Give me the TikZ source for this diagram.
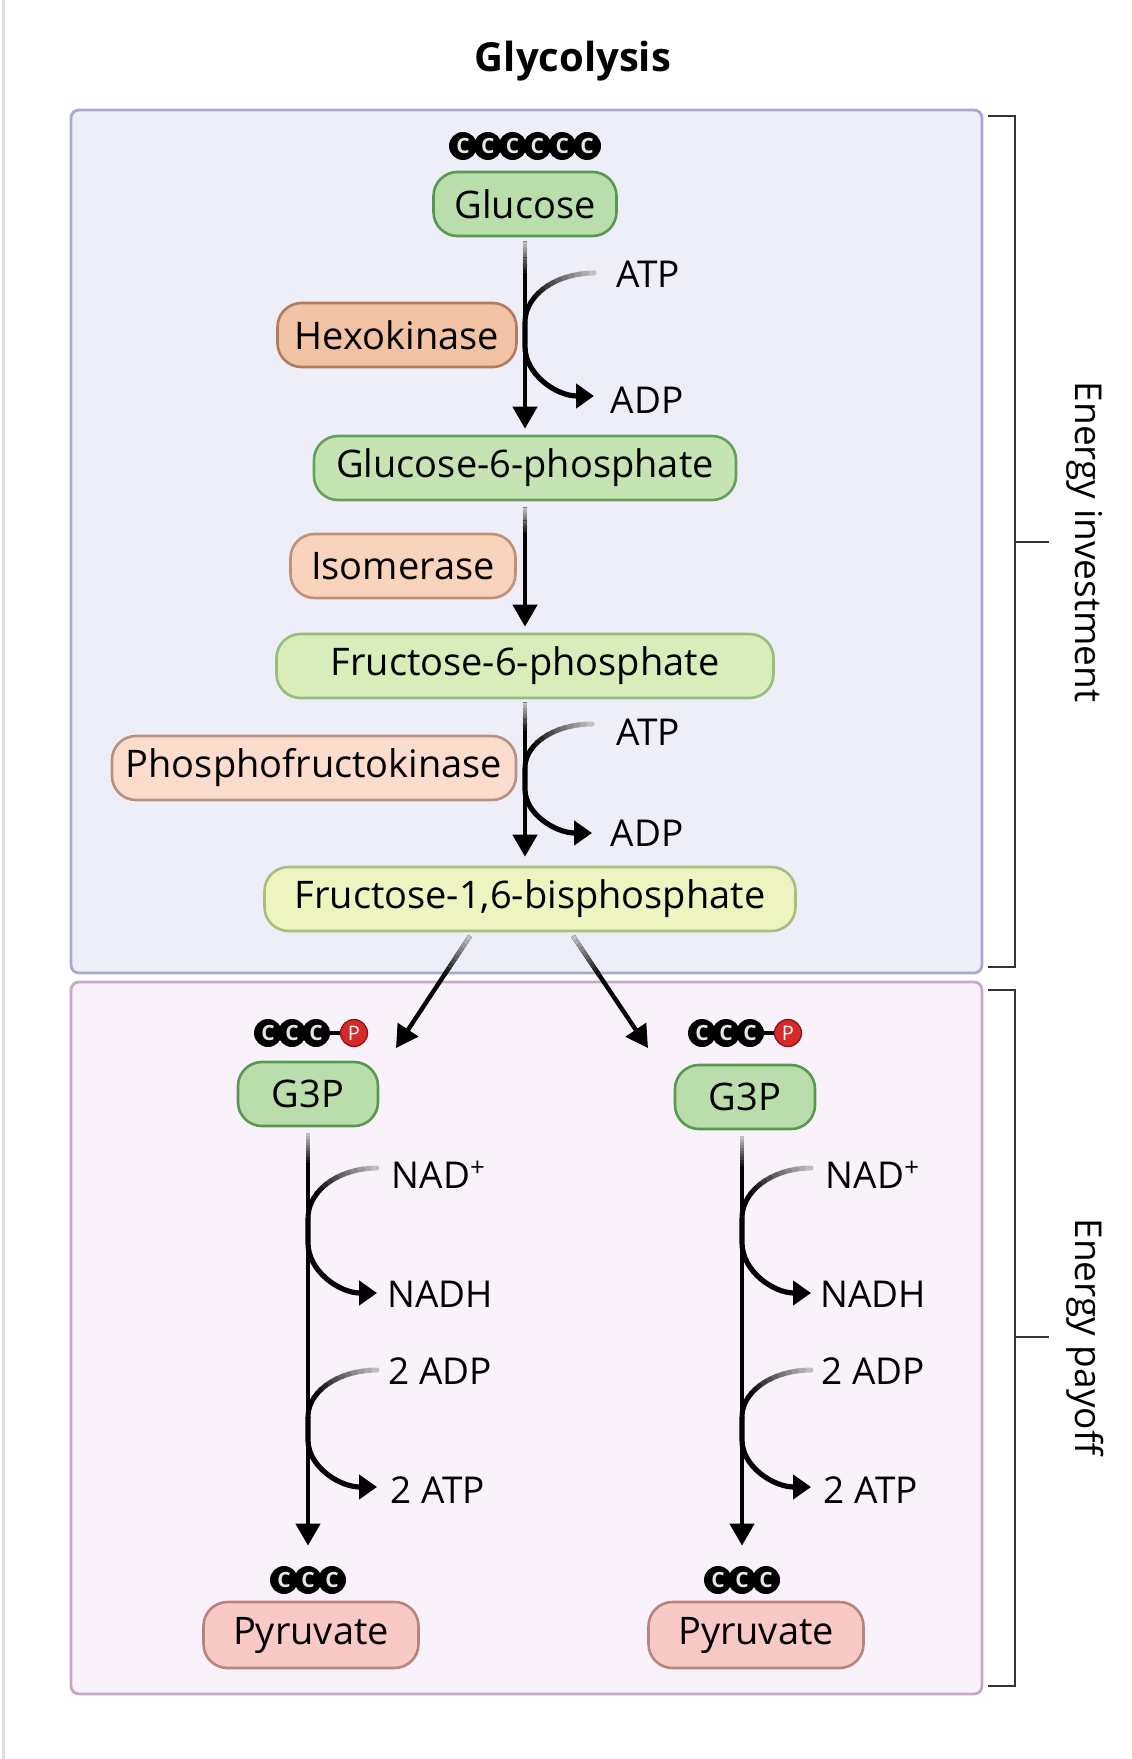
\documentclass[tikz,border=0pt]{standalone}
\usepackage{fontspec}
\setmainfont{Open Sans}
\usetikzlibrary{arrows.meta,calc}
\definecolor{panelA}{HTML}{EEEEF9}
\definecolor{panelAb}{HTML}{A9A9CF}
\definecolor{panelB}{HTML}{FAF2FA}
\definecolor{panelBb}{HTML}{C8A8C8}
\definecolor{gA}{HTML}{B9DEAC}
\definecolor{gAb}{HTML}{589850}
\definecolor{gB}{HTML}{C6E3B3}
\definecolor{gBb}{HTML}{66A058}
\definecolor{gC}{HTML}{D8EDB9}
\definecolor{gCb}{HTML}{94BE7C}
\definecolor{gD}{HTML}{EEF4C0}
\definecolor{gDb}{HTML}{ABBD7C}
\definecolor{oA}{HTML}{F1C2A3}
\definecolor{oAb}{HTML}{B07C5E}
\definecolor{oB}{HTML}{F9D3BC}
\definecolor{oBb}{HTML}{C09078}
\definecolor{oC}{HTML}{FCDDCD}
\definecolor{oCb}{HTML}{B89280}
\definecolor{pk}{HTML}{F8C9C5}
\definecolor{pkb}{HTML}{B88480}
\definecolor{pred}{HTML}{D42A2A}
\definecolor{pdark}{HTML}{8B1010}
\definecolor{brk}{HTML}{333333}

\newcommand\cofac[4]{% xm, ytop, ybot, w
  \pgfmathsetmacro\ryA{0.4*(#3-#2)}
  \foreach \k in {0,...,14}{%
    \pgfmathsetmacro\aa{90+6*\k}
    \pgfmathsetmacro\ab{96+6*\k}
    \pgfmathtruncatemacro\pp{25+75*\k/10}
    \pgfmathtruncatemacro\pq{min(\pp,100)}
    \draw[line width=2.5pt, line cap=round, black!\pq] ({#1+#4+#4*cos(\aa)},{#2+\ryA-\ryA*sin(\aa)}) -- ({#1+#4+#4*cos(\ab)},{#2+\ryA-\ryA*sin(\ab)});
  }
  \draw[curvarr] (#1,{#2+\ryA}) -- (#1,{#3-\ryA}) .. controls (#1,{#3-0.448*\ryA}) and ({#1+0.448*#4},#3) .. ({#1+#4},#3);
}
\newcommand\fadeseg[2]{% from, to
  \foreach \k in {0,...,9}{%
    \pgfmathsetmacro\ta{\k/10}
    \pgfmathsetmacro\tb{(\k+1)/10}
    \pgfmathtruncatemacro\pp{25+75*\k/10}
    \draw[line width=2.2pt, black!\pp] ($(#1)!\ta!(#2)$) -- ($(#1)!\tb!(#2)$);
  }
}

\tikzset{
  pill/.style={draw, line width=1.3pt, rounded corners=12pt, minimum height=32pt, inner sep=0pt, font=\fontsize{19}{22}\selectfont},
  lbl/.style={font=\fontsize{18.5}{22}\selectfont, inner sep=0pt},
  mainarr/.style={line width=2.2pt, -{Triangle[length=11pt,width=12pt]}},
  curvarr/.style={line width=2.6pt, -{Triangle[length=9pt,width=12pt]}},
  carbon/.style={circle, fill=black, minimum size=14pt, inner sep=0pt, text=gray!20, font=\bfseries\fontsize{10.5}{10}\selectfont},
  phos/.style={circle, fill=pred, draw=pdark, line width=0.6pt, minimum size=13.5pt, inner sep=0pt, text=white, font=\fontsize{10}{10}\selectfont},
  bracket/.style={line width=1pt, brk},
}

\begin{document}
\begin{tikzpicture}[x=0.5pt, y=-0.5pt]
\useasboundingbox (0,0) rectangle (1131,1759);
\fill[white] (0,0) rectangle (1131,1759);
\draw[gray!25, line width=1.5pt] (3,0) -- (3,1759);

% title
\node[font=\bfseries\fontsize{20}{24}\selectfont] (title) at (573,61) {Glycolysis};

% panels
\draw[fill=panelA, draw=panelAb, line width=1.4pt, rounded corners=4pt] (71,110) rectangle (982,973);
\draw[fill=panelB, draw=panelBb, line width=1.4pt, rounded corners=4pt] (71,982) rectangle (982,1694);

% brackets
\draw[bracket] (988,116) -- (1015,116) -- (1015,967) -- (988,967);
\draw[bracket] (1015,542) -- (1049,542);
\draw[bracket] (988,990) -- (1015,990) -- (1015,1686) -- (988,1686);
\draw[bracket] (1015,1337) -- (1049,1337);
\node[lbl, rotate=-90] (einv) at (1085,542) {Energy investment};
\node[lbl, rotate=-90] (epay) at (1085,1337) {Energy payoff};

% top nodes
\node[pill, fill=gA, draw=gAb, minimum width=91.5pt] (glc) at (525,204) {Glucose};
\node[pill, fill=oA, draw=oAb, minimum width=119.5pt] (hex) at (397,335) {Hexokinase};
\node[pill, fill=gB, draw=gBb, minimum width=211pt] (g6p) at (525,468) {Glucose-6-phosphate};
\node[pill, fill=oB, draw=oBb, minimum width=112.5pt] (iso) at (403,566) {Isomerase};
\node[pill, fill=gC, draw=gCb, minimum width=248.5pt] (f6p) at (525,666) {Fructose-6-phosphate};
\node[pill, fill=oC, draw=oCb, minimum width=202pt] (pfk) at (314,768) {Phosphofructokinase};
\node[pill, fill=gD, draw=gDb, minimum width=265.5pt] (f16) at (530,899) {Fructose-1,6-bisphosphate};

% glucose carbons
\foreach \i in {0,...,5} \node[carbon] (cg\i) at ({463+24.8*\i},146) {C};

% labels top
\node[lbl] (atp1) at (648,274) {ATP};
\node[lbl] (adp1) at (647,400) {ADP};
\node[lbl] (atp2) at (648,732) {ATP};
\node[lbl] (adp2) at (647,833) {ADP};

% main arrows top
\draw[mainarr, shorten <=2pt, shorten >=3pt] (glc) -- (g6p);
\draw[mainarr, shorten <=3pt, shorten >=3pt] (g6p) -- (f6p);
\draw[mainarr, shorten <=1.5pt, shorten >=4.5pt] (f6p.south) -- (f6p.south |- f16.north);
\coordinate (fa1) at ($(glc.south)+(0,4)$);
\coordinate (fb1) at ($(glc.south)+(0,36)$);
\fadeseg{fa1}{fb1}
\coordinate (fa2) at ($(g6p.south)+(0,6)$);
\coordinate (fb2) at ($(g6p.south)+(0,32)$);
\fadeseg{fa2}{fb2}
\coordinate (fa3) at ($(f6p.south)+(0,3)$);
\coordinate (fb3) at ($(f6p.south)+(0,32)$);
\fadeseg{fa3}{fb3}

% cofactor curves top
\cofac{525}{273}{396}{69}
\cofac{525}{724}{833}{67}

% diagonal split
\coordinate (dLs) at (470,936);
\coordinate (dLe) at (396,1048);
\coordinate (dRs) at (573,936);
\coordinate (dRe) at (648,1048);
\draw[mainarr] (dLs) -- (dLe);
\draw[mainarr] (dRs) -- (dRe);
\coordinate (dLm) at ($(dLs)!0.35!(dLe)$);
\coordinate (dRm) at ($(dRs)!0.35!(dRe)$);
\fadeseg{dLs}{dLm}
\fadeseg{dRs}{dRm}

% bottom nodes
\node[pill, fill=gA, draw=gAb, minimum width=70pt] (g3pL) at (308,1094) {G3P};
\node[pill, fill=gA, draw=gAb, minimum width=70pt] (g3pR) at (745,1097) {G3P};
\node[pill, fill=pk, draw=pkb, minimum width=107.5pt, minimum height=33pt] (pyrL) at (311,1635) {Pyruvate};
\node[pill, fill=pk, draw=pkb, minimum width=107.5pt, minimum height=33pt] (pyrR) at (756,1635) {Pyruvate};

% G3P carbons + phosphate
\foreach \i in {0,1,2} \node[carbon] (cL\i) at ({268+24*\i},1033) {C};
\node[phos] (pL) at (354,1033) {P};
\draw[line width=1.8pt] (cL2) -- (pL);
\foreach \i in {0,1,2} \node[carbon] (cR\i) at ({702+24*\i},1033) {C};
\node[phos] (pR) at (788,1033) {P};
\draw[line width=1.8pt] (cR2) -- (pR);

% pyruvate carbons
\foreach \i in {0,1,2} \node[carbon] (pcL\i) at ({284+24*\i},1580) {C};
\foreach \i in {0,1,2} \node[carbon] (pcR\i) at ({718+24*\i},1580) {C};

% long arrows
\draw[mainarr, shorten <=3pt, shorten >=10pt] (g3pL.south -| pcL1) -- (pcL1);
\draw[mainarr, shorten <=3pt, shorten >=10pt] (g3pR.south -| pcR1) -- (pcR1);
\coordinate (fa4) at ($(g3pL.south -| pcL1)+(0,6)$);
\coordinate (fb4) at ($(g3pL.south -| pcL1)+(0,36)$);
\fadeseg{fa4}{fb4}
\coordinate (fa5) at ($(g3pR.south -| pcR1)+(0,6)$);
\coordinate (fb5) at ($(g3pR.south -| pcR1)+(0,36)$);
\fadeseg{fa5}{fb5}

% cofactor curves bottom
\cofac{308}{1168}{1293}{69}
\cofac{308}{1370}{1487}{69}
\cofac{742}{1168}{1293}{69}
\cofac{742}{1370}{1487}{69}

% labels bottom
\node[lbl] (nadL) at (439,1175) {NAD\textsuperscript{+}};
\node[lbl] (nadhL) at (440,1294) {NADH};
\node[lbl] (adpL) at (440,1371) {2 ADP};
\node[lbl] (atpL) at (438,1490) {2 ATP};
\node[lbl] (nadR) at (873,1175) {NAD\textsuperscript{+}};
\node[lbl] (nadhR) at (873,1294) {NADH};
\node[lbl] (adpR) at (873,1371) {2 ADP};
\node[lbl] (atpR) at (871,1490) {2 ATP};
\end{tikzpicture}
\end{document}
